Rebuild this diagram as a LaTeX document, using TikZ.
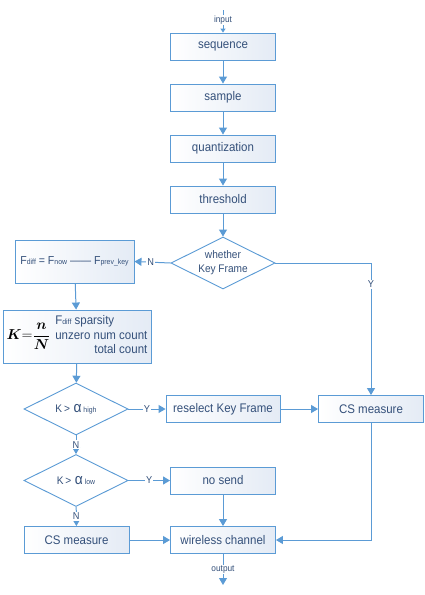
\documentclass[tikz,border=0pt]{standalone}
\usepackage{fontspec}
\usepackage{bm}
\setmainfont[FakeStretch=0.92]{Liberation Sans}
\usetikzlibrary{arrows.meta,shapes.geometric,positioning}
\definecolor{lineblue}{HTML}{5B9BD5}
\definecolor{textblue}{HTML}{34507A}
\definecolor{fillblue}{HTML}{E4EBF5}
\newcommand{\sm}[1]{{\fontsize{7.5}{8}\selectfont #1}}

\begin{document}
\begin{tikzpicture}[x=1pt, y=-1pt,
        box/.style = {draw = lineblue, line width = 0.9pt, left color = white, right color = fillblue,
                      minimum width = 105pt, minimum height = 27pt, inner sep = 1pt,
                      text = textblue, font = \fontsize{12.5}{14}\selectfont},
        decision/.style = {diamond, draw = lineblue, line width = 0.9pt, fill = white, aspect = 2,
                           minimum width = 104pt, minimum height = 52pt, inner sep = 0pt,
                           text = textblue, align = center, font = \fontsize{11}{14}\selectfont},
        flow/.style = {draw = lineblue, line width = 1pt, -{Triangle[width = 8pt, length = 7pt]}},
        yn/.style = {fill = white, inner sep = 1pt, text = textblue, font = \fontsize{10}{10}\selectfont},
        io/.style = {fill = white, inner sep = 1pt, text = textblue, font = \fontsize{9}{10}\selectfont}]
    \useasboundingbox (0,0) rectangle (424,595);
    % main column
    \node[box] (seq) at (223,46.5) {sequence};
    \node[box] (samp) at (223,97.5) {sample};
    \node[box] (quant) at (223,148.5) {quantization};
    \node[box] (thr) at (223,199.5) {threshold};
    \node[decision] (key) at (223,263) {whether\\Key Frame};
    % left branch
    \node[box, minimum width = 119pt, minimum height = 43pt, font = \fontsize{11.5}{14}\selectfont]
        (diff) at (74.5,261.5) {F\sm{diff} = F\sm{now} —— F\sm{prev\_key}};
    \node[box, minimum width = 148pt, minimum height = 53pt, inner sep = 0pt]
        (spars) at (77,336.5) {{\color{black}\fontsize{14}{14}\selectfont$\bm{K}{=}\displaystyle\frac{\bm{n}}{\bm{N}}$}\hspace{5pt}%
        {\fontsize{12.5}{14.5}\selectfont\begin{tabular}[c]{@{}l@{}}
            F\sm{diff} sparsity\\
            unzero num count\\
            \hfill total count
        \end{tabular}}};
    \node[decision] (high) at (76,409) {K\,>\,\,{\fontsize{15}{15}\selectfont α}\,\sm{high}};
    \node[decision] (low) at (76,480.5) {K\,>\,\,{\fontsize{15}{15}\selectfont α}\,\sm{low}};
    \node[box] (csl) at (76.5,540) {CS measure};
    % right side
    \node[box, minimum width = 114pt] (resel) at (223,409) {reselect Key Frame};
    \node[box] (csr) at (371,409) {CS measure};
    \node[box] (nosend) at (223,480.5) {no send};
    \node[box] (wire) at (223,540) {wireless channel};
    % input / output
    \coordinate (in) at (223,10);
    \coordinate (out) at (223,585);
    \draw[draw = lineblue, line width = 1pt, -{Triangle[width = 5pt, length = 4pt]}] (in) -- (seq.north)
        node[io, pos = 0.45] {input};
    \draw[flow] (wire.south) -- (out) node[io, pos = 0.5] {output};
    % connectors
    \draw[flow] (seq) -- (samp);
    \draw[flow] (samp) -- (quant);
    \draw[flow] (quant) -- (thr);
    \draw[flow] (thr) -- (key);
    \draw[flow] (key.west) -- (diff.east) node[yn, pos = 0.55] {N};
    \draw[flow] (key.east) -| (csr.north) node[yn, pos = 0.58] {Y};
    \draw[flow] (diff) -- (spars);
    \draw[flow] (spars) -- (high);
    \draw[flow] (high) -- (resel) node[yn, pos = 0.5] {Y};
    \draw[flow] (resel) -- (csr);
    \draw[flow] (high) -- (low) node[yn, pos = 0.5] {N};
    \draw[flow] (low) -- (nosend) node[yn, pos = 0.5] {Y};
    \draw[flow] (low) -- (csl) node[yn, pos = 0.5] {N};
    \draw[flow] (csl) -- (wire);
    \draw[flow] (nosend) -- (wire);
    \draw[flow] (csr.south) |- (wire.east);
\end{tikzpicture}
\end{document}
